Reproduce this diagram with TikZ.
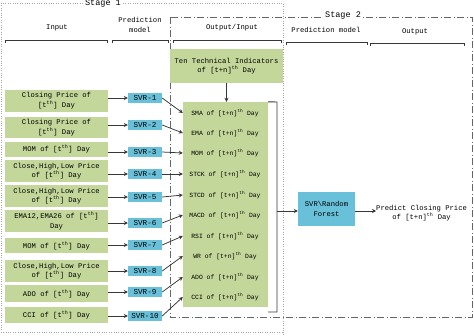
\documentclass[tikz,border=0pt]{standalone}
\usepackage{fontspec}
\newfontfamily\mono{Liberation Mono}
\usetikzlibrary{arrows.meta}
\definecolor{boxgreen}{RGB}{196,215,155}
\definecolor{boxblue}{RGB}{104,192,217}
\definecolor{linegrey}{RGB}{55,55,55}
\begin{document}
\begin{tikzpicture}[x=1pt,y=-1pt,
  txt/.style={font=\mono\fontsize{7.2}{9.5}\selectfont, align=center, inner sep=0pt},
  inbox/.style={txt, fill=boxgreen, minimum width=103pt},
  svrbox/.style={txt, fill=boxblue, minimum width=34pt, minimum height=10pt, font=\mono\fontsize{7.6}{9}\selectfont},
  lbl/.style={font=\mono\fontsize{6.4}{8}\selectfont, inner sep=0pt},
  arr/.style={draw=linegrey, line width=0.75pt, -{Stealth[length=4pt,width=4pt]}},
  brk/.style={draw=linegrey, line width=0.9pt},
  stageone/.style={draw=black!35, line width=0.6pt, dash pattern=on 0.8pt off 1.6pt},
  stagetwo/.style={draw=black!60, line width=0.8pt, dash pattern=on 7pt off 2.5pt on 1pt off 2.5pt},
  stagelbl/.style={txt, fill=white, inner xsep=2pt, font=\mono\fontsize{8.5}{9}\selectfont}]
\useasboundingbox (0,0) rectangle (474,335);

% stage frames
\draw[stageone] (1,3) rectangle (283,332);
\draw[stageone] (283,332) -- (283,335);
\draw[stagetwo] (170,17) rectangle (472,317);
\node[stagelbl] (st1) at (103,4) {Stage 1};
\node[stagelbl] (st2) at (343,16) {Stage 2};

% headers
\node[txt] (h1) at (57,28) {Input};
\node[txt] (h2) at (140,25) {Prediction\\model};
\node[txt] (h3) at (232,28) {Output/Input};
\node[txt] (h4) at (326,30) {Prediction model};
\node[txt] (h5) at (415,32) {Output};
\draw[brk] (5,43) -- (5,40) -- (107,40) -- (107,43);
\draw[brk] (112,43) -- (112,40) -- (168,40) -- (168,43);
\draw[brk] (173,43) -- (173,40) -- (281,40) -- (281,43);
\draw[brk] (286,45) -- (286,42) -- (367,42) -- (367,45);
\draw[brk] (370,46) -- (370,43) -- (464,43) -- (464,46);

% input boxes
\node[inbox, minimum height=22pt] (in1) at (56.5,100.5) {Closing Price of\\{[}t\textsuperscript{th}{]} Day};
\node[inbox, minimum height=21pt] (in2) at (56.5,127.5) {Closing Price of\\{[}t\textsuperscript{th}{]} Day};
\node[inbox, minimum height=15pt] (in3) at (56.5,149) {MOM of [t\textsuperscript{th}] Day};
\node[inbox, minimum height=22pt] (in4) at (56.5,171) {Close,High,Low Price\\of [t\textsuperscript{th}] Day};
\node[inbox, minimum height=22pt] (in5) at (56.5,196) {Close,High,Low Price\\of [t\textsuperscript{th}] Day};
\node[inbox, minimum height=22pt] (in6) at (56.5,221) {EMA12,EMA26 of [t\textsuperscript{th}]\\Day};
\node[inbox, minimum height=15pt] (in7) at (56.5,245.5) {MOM of [t\textsuperscript{th}] Day};
\node[inbox, minimum height=22pt] (in8) at (56.5,271) {Close,High,Low Price\\of [t\textsuperscript{th}] Day};
\node[inbox, minimum height=17pt] (in9) at (56.5,293.5) {ADO of [t\textsuperscript{th}] Day};
\node[inbox, minimum height=16pt] (in10) at (56.5,315) {CCI of [t\textsuperscript{th}] Day};

% SVR boxes
\node[svrbox] (s1) at (145,98) {SVR-1};
\node[svrbox] (s2) at (145,125) {SVR-2};
\node[svrbox] (s3) at (145,152) {SVR-3};
\node[svrbox] (s4) at (145,174) {SVR-4};
\node[svrbox] (s5) at (145,197) {SVR-5};
\node[svrbox] (s6) at (145,223) {SVR-6};
\node[svrbox] (s7) at (145,245) {SVR-7};
\node[svrbox] (s8) at (145,271) {SVR-8};
\node[svrbox] (s9) at (145,292) {SVR-9};
\node[svrbox] (s10) at (145,316) {SVR-10};

% technical indicators box
\node[txt, fill=boxgreen, minimum width=113pt, minimum height=34pt] (tt) at (226.5,66) {Ten Technical Indicators\\of [t+n]\textsuperscript{th} Day};

% big output box
\node[fill=boxgreen, minimum width=85pt, minimum height=205pt, inner sep=0pt] (big) at (225.5,204.5) {};
\node[lbl] (o1) at (225,113) {SMA of [t+n]\textsuperscript{th} Day};
\node[lbl] (o2) at (225,133) {EMA of [t+n]\textsuperscript{th} Day};
\node[lbl] (o3) at (225,153) {MOM of [t+n]\textsuperscript{th} Day};
\node[lbl] (o4) at (225,174) {STCK of [t+n]\textsuperscript{th} Day};
\node[lbl] (o5) at (225,195) {STCD of [t+n]\textsuperscript{th} Day};
\node[lbl] (o6) at (225,215) {MACD of [t+n]\textsuperscript{th} Day};
\node[lbl] (o7) at (225,236) {RSI of [t+n]\textsuperscript{th} Day};
\node[lbl] (o8) at (225,256) {WR of [t+n]\textsuperscript{th} Day};
\node[lbl] (o9) at (225,277) {ADO of [t+n]\textsuperscript{th} Day};
\node[lbl] (o10) at (225,297) {CCI of [t+n]\textsuperscript{th} Day};

% stage 2 nodes
\node[txt, fill=boxblue, minimum width=57pt, minimum height=34pt] (rf) at (326.5,209) {SVR\textbackslash Random\\Forest};
\node[txt, anchor=west] (pc) at (376,213) {Predict Closing Price\\of [t+n]\textsuperscript{th} Day};

% arrows
\foreach \i in {1,...,10} {
  \draw[arr] (s\i.west -| in\i.east) -- (s\i.west);
  \draw[arr] (s\i.east) -- (o\i.west -| big.west);
}
\draw[arr] (tt.south) -- (tt.south |- big.north);

% right bracket
\coordinate (bt) at (277,102);
\coordinate (bb) at (277,312);
\coordinate (bm) at (277,211);
\draw[brk] (big.north east) -- (bt) -- (bb) -- (bb -| big.east);
\draw[arr] (bm) -- (bm -| rf.west);
\draw[arr] (rf.east |- bm) -- (pc.west |- bm);
\end{tikzpicture}
\end{document}
